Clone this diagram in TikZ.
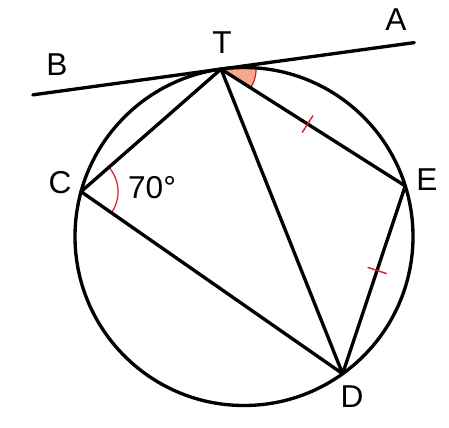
\documentclass[tikz,border=0pt]{standalone}
\usepackage{fontspec}
\setmainfont{Liberation Sans}
\usepackage{tikz}
\usetikzlibrary{positioning,calc}

\definecolor{angred}{HTML}{D0202A}
\definecolor{angfill}{HTML}{F4A88C}

\tikzset{
    seg/.style={line width=1.9pt, line cap=round, line join=round},
    lbl/.style={font=\fontsize{18}{20}\selectfont, inner sep=0pt},
    angarc/.style={angred, line width=0.7pt},
    tick/.style={angred, line width=0.8pt}
}

\begin{document}
\begin{tikzpicture}[x=0.02cm, y=0.02cm]
        \useasboundingbox (0,0) rectangle (449,427);
        \coordinate (O) at (244,190.5);
        \coordinate (T) at ([shift={(97.8:169)}]O);
        \coordinate (C) at ([shift={(164.6:169)}]O);
        \coordinate (E) at ([shift={(17.4:169)}]O);
        \coordinate (D) at ([shift={(-54.3:169)}]O);
        \coordinate (A) at ([shift={(7.8:195)}]T);
        \coordinate (B) at ([shift={(187.8:190)}]T);

        % angle ATE, shaded
        \fill[angfill] (T) -- ++(7.8:35) arc (7.8:-32.4:35) -- cycle;
        \draw[angarc] ([shift={(7.8:35)}]T) arc (7.8:-32.4:35);
        % angle TCD = 70
        \draw[angarc] ([shift={(-34.9:37)}]C) arc (-34.9:41.2:37);

        \draw[seg] (O) circle (169);
        \draw[seg] (B) -- (A);
        \draw[seg] (T) -- (C) -- (D) -- (T) -- (E) -- (D);

        % equal sides TE = ED
        \coordinate (m1) at ($(T)!0.47!(E)$);
        \coordinate (m2) at ($(E)!0.45!(D)$);
        \draw[tick] ([shift={(57.6:10)}]m1) -- ([shift={(237.6:10)}]m1);
        \draw[tick] ([shift={(-18.5:10)}]m2) -- ([shift={(161.5:10)}]m2);

        \node[lbl] (lT) at (222,384) {T};
        \node[lbl] (lA) at (396,407) {A};
        \node[lbl] (lB) at (57,362) {B};
        \node[lbl] (lC) at (60,244) {C};
        \node[lbl] (lE) at (427,247) {E};
        \node[lbl] (lD) at (352,30) {D};
        \node[lbl] (ang) at (152,239) {70°};
    \end{tikzpicture}
\end{document}
